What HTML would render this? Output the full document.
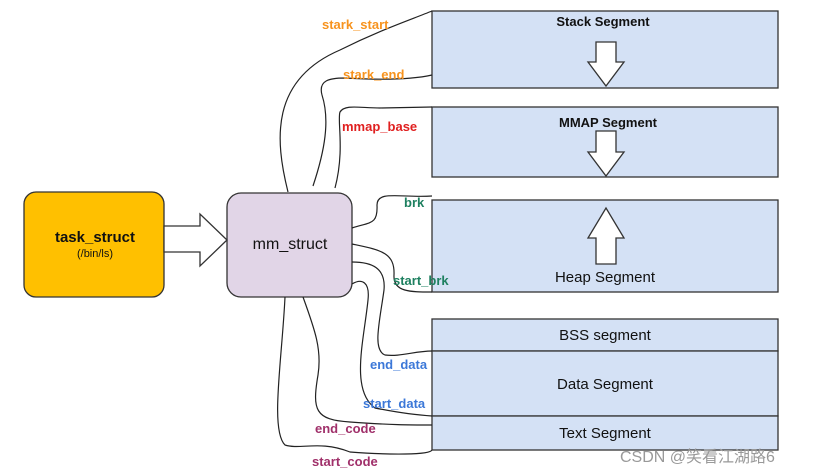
<!DOCTYPE html><html><head><style>body{margin:0;background:#fff}svg{display:block}text{font-family:"Liberation Sans","Noto Sans CJK SC",sans-serif}</style></head><body>
<svg width="820" height="474" viewBox="0 0 820 474">
<g fill="#D4E1F5" stroke="#333" stroke-width="1.3">
<rect x="432" y="11" width="346" height="77"/><rect x="432" y="107" width="346" height="70"/><rect x="432" y="200" width="346" height="92"/>
<rect x="432" y="319" width="346" height="32"/><rect x="432" y="351" width="346" height="65"/><rect x="432" y="416" width="346" height="34"/></g>
<rect x="24" y="192" width="140" height="105" rx="12" fill="#FFC000" stroke="#333" stroke-width="1.3"/>
<rect x="227" y="193" width="125" height="104" rx="14" fill="#E1D5E7" stroke="#333" stroke-width="1.3"/>
<g fill="#fff" stroke="#333" stroke-width="1.3">
<polygon points="164,226 200,226 200,214 227,240 200,266 200,252 164,252"/>
<polygon points="596,42 616,42 616,62 624,62 606,86 588,62 596,62"/>
<polygon points="596,131 616,131 616,152 624,152 606,176 588,152 596,152"/>
<polygon points="596,264 616,264 616,238 624,238 606,208 588,238 596,238"/>
</g>
<g fill="none" stroke="#222" stroke-width="1.2">
<path d="M288,192 C275,140 270,80 340,50 C380,30 410,20 432,11"/>
<path d="M313,186 C325,150 330,120 322,95 C318,80 330,78 345,78 C380,80 410,80 432,75"/>
<path d="M335,188 C345,150 337,120 340,112 C345,104 360,108 380,108 L432,107"/>
<path d="M352,228 C370,222 378,225 377,205 C377,190 400,198 432,196"/>
<path d="M352,244 C380,250 395,252 394,275 C393,292 410,292 432,292"/>
<path d="M352,262 C372,262 386,268 384,290 C380,320 372,350 385,355 C400,357 415,351 432,351"/>
<path d="M352,284 C362,278 370,282 368,300 C364,340 350,390 375,408 C395,412 415,415 432,416"/>
<path d="M303,297 C315,330 322,350 318,375 C312,410 315,420 350,422 C390,425 410,425 432,425"/>
<path d="M285,297 C282,360 270,430 285,445 C300,450 320,440 350,452 C390,455 430,455 432,450"/>
</g>
<g font-size="14" text-anchor="middle" fill="#111">
<text x="95" y="242" font-weight="bold" font-size="15">task_struct</text>
<text x="95" y="257" font-size="11">(/bin/ls)</text>
<text x="290" y="249" font-size="16">mm_struct</text>
<text x="603" y="26" font-weight="bold" font-size="13">Stack Segment</text>
<text x="608" y="127" font-weight="bold" font-size="13">MMAP Segment</text>
<text x="605" y="282" font-size="15">Heap Segment</text>
<text x="605" y="340" font-size="15">BSS segment</text>
<text x="605" y="389" font-size="15">Data Segment</text>
<text x="605" y="438" font-size="15">Text Segment</text>
</g>
<g font-size="13" font-weight="bold">
<text x="322" y="29" fill="#F7931E">stark_start</text>
<text x="343" y="79" fill="#F7931E">stark_end</text>
<text x="342" y="131" fill="#E02020">mmap_base</text>
<text x="404" y="207" fill="#1E8060">brk</text>
<text x="393" y="285" fill="#1E8060">start_brk</text>
<text x="370" y="369" fill="#3C78D8">end_data</text>
<text x="363" y="408" fill="#3C78D8">start_data</text>
<text x="315" y="433" fill="#A0306A">end_code</text>
<text x="312" y="466" fill="#A0306A">start_code</text>
</g>
<text x="620" y="462" font-size="16" fill="#999">CSDN @笑看江湖路6</text>
</svg></body></html>
